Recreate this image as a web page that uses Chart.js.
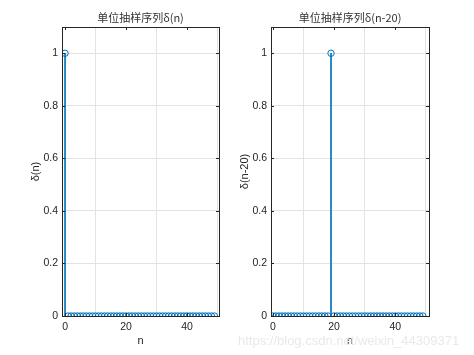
<!DOCTYPE html>
<html>
<head>
<meta charset="utf-8">
<script src="https://cdn.jsdelivr.net/npm/chart.js@4/dist/chart.umd.min.js"></script>
<style>
  html, body { margin: 0; padding: 0; background: #fff; }
  body { width: 474px; height: 355px; position: relative; overflow: hidden; }
  canvas { position: absolute; top: 0; }
  #left { left: 0; }
  #right { left: 209px; }
  .mark {
    position: absolute; left: 238px; top: 333px;
    font: 13px "Liberation Sans", Arial, sans-serif;
    color: #e9e9e9; white-space: nowrap;
  }
</style>
</head>
<body>
<canvas id="left" width="237" height="355"></canvas>
<canvas id="right" width="265" height="355"></canvas>
<div class="mark">https://blog.csdn.net/weixin_44309371</div>
<script>
// ---------------------------------------------------------
// DATA
// ---------------------------------------------------------
const nValues = [0, 1, 2, 3, 4, 5, 6, 7, 8, 9, 10, 11, 12, 13, 14, 15, 16, 17, 18, 19,
                 20, 21, 22, 23, 24, 25, 26, 27, 28, 29, 30, 31, 32, 33, 34, 35, 36, 37, 38, 39,
                 40, 41, 42, 43, 44, 45, 46, 47, 48, 49];

// δ(n): 1 at n = 0
const deltaN = [1, 0, 0, 0, 0, 0, 0, 0, 0, 0, 0, 0, 0, 0, 0, 0, 0, 0, 0, 0,
                0, 0, 0, 0, 0, 0, 0, 0, 0, 0, 0, 0, 0, 0, 0, 0, 0, 0, 0, 0,
                0, 0, 0, 0, 0, 0, 0, 0, 0, 0];

// δ(n-20): the spike sits at n = 19 in the picture
const deltaShift = [0, 0, 0, 0, 0, 0, 0, 0, 0, 0, 0, 0, 0, 0, 0, 0, 0, 0, 0, 1,
                    0, 0, 0, 0, 0, 0, 0, 0, 0, 0, 0, 0, 0, 0, 0, 0, 0, 0, 0, 0,
                    0, 0, 0, 0, 0, 0, 0, 0, 0, 0];

const xTicks = [0, 20, 40];
const yTicks = [0, 0.2, 0.4, 0.6, 0.8, 1];

const BLUE = '#0072BD';
const AXIS = '#262626';

// Box around the axes, inward tick marks, title
const framePlugin = {
  id: 'frame',
  afterDraw(chart, args, opts) {
    const { ctx, chartArea: a, scales } = chart;
    ctx.save();
    ctx.strokeStyle = AXIS;
    ctx.lineWidth = 1;
    ctx.strokeRect(Math.round(a.left) + 0.5, Math.round(a.top) + 0.5,
                   Math.round(a.right - a.left), Math.round(a.bottom - a.top));
    ctx.beginPath();
    xTicks.forEach(v => {
      const x = Math.round(scales.x.getPixelForValue(v)) + 0.5;
      ctx.moveTo(x, a.bottom); ctx.lineTo(x, a.bottom - 3);
      ctx.moveTo(x, a.top); ctx.lineTo(x, a.top + 3);
    });
    yTicks.forEach(v => {
      const y = Math.round(scales.y.getPixelForValue(v)) + 0.5;
      ctx.moveTo(a.left, y); ctx.lineTo(a.left + 3, y);
      ctx.moveTo(a.right, y); ctx.lineTo(a.right - 3, y);
    });
    ctx.stroke();

    ctx.fillStyle = '#333';
    ctx.font = '11px "Noto Sans CJK SC", sans-serif';
    ctx.textAlign = 'center';
    ctx.textBaseline = 'alphabetic';
    ctx.fillText(opts.text, (a.left + a.right) / 2, a.top - 5);
    ctx.restore();
  }
};

function makeChart(id, values, title, yLabel, xMin, xMax, padRight) {
  const points = nValues.map((n, i) => ({ x: n, y: values[i] }));
  return new Chart(document.getElementById(id), {
    type: 'bar',
    data: {
      datasets: [
        {
          type: 'line',
          data: points,
          showLine: false,
          pointStyle: 'circle',
          pointRadius: 3.2,
          pointBorderWidth: 1,
          pointBorderColor: BLUE,
          pointBackgroundColor: 'rgba(0,0,0,0)',
          order: 0
        },
        {
          type: 'bar',
          data: points,
          backgroundColor: BLUE,
          barThickness: 1,
          borderWidth: 0,
          order: 1
        }
      ]
    },
    options: {
      responsive: false,
      animation: false,
      devicePixelRatio: 1,
      layout: { padding: { left: 25, top: 27, right: padRight, bottom: 0 } },
      plugins: {
        legend: { display: false },
        tooltip: { enabled: false },
        frame: { text: title }
      },
      scales: {
        x: {
          type: 'linear',
          offset: false,
          min: xMin,
          max: xMax,
          afterBuildTicks: s => { s.ticks = xTicks.map(v => ({ value: v })); },
          afterFit: s => { s.height = 39; },
          grid: { color: '#e3e3e3', drawTicks: false },
          border: { display: false },
          ticks: {
            padding: 5,
            color: AXIS,
            font: { family: '"Liberation Sans", Arial, sans-serif', size: 10.5 },
            callback: v => String(v)
          },
          title: {
            display: true,
            text: 'n',
            color: AXIS,
            padding: { top: 0, bottom: 7 },
            font: { family: '"Liberation Sans", Arial, sans-serif', size: 11 }
          }
        },
        y: {
          min: 0,
          max: 1.1,
          afterBuildTicks: s => { s.ticks = yTicks.map(v => ({ value: v })); },
          afterFit: s => { s.width = 37; },
          grid: { color: '#e3e3e3', drawTicks: false },
          border: { display: false },
          ticks: {
            padding: 4,
            color: AXIS,
            font: { family: '"Liberation Sans", Arial, sans-serif', size: 10.5 },
            callback: v => String(v)
          },
          title: {
            display: true,
            text: yLabel,
            color: AXIS,
            padding: 4,
            font: { family: '"Liberation Sans", Arial, sans-serif', size: 11 }
          }
        }
      }
    },
    plugins: [framePlugin]
  });
}

makeChart('left', deltaN, '单位抽样序列δ(n)', 'δ(n)', -1, 50.5, 18);
makeChart('right', deltaShift, '单位抽样序列δ(n-20)', 'δ(n-20)', -0.6, 51, 45);
</script>
</body>
</html>
